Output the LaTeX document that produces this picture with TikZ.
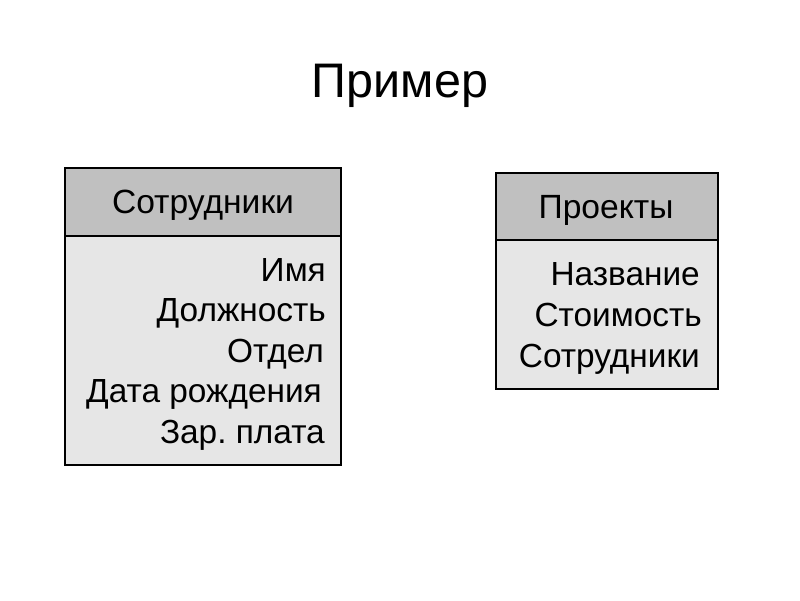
\documentclass[tikz,border=0pt]{standalone}
\usepackage{fontspec}
\setmainfont{Liberation Sans}
\definecolor{hdr}{HTML}{C0C0C0}
\definecolor{bdy}{HTML}{E6E6E6}
\begin{document}
\begin{tikzpicture}[x=1pt,y=-1pt,
  hdrbox/.style={draw=black,line width=2.4pt,fill=hdr},
  bdybox/.style={draw=black,line width=2.4pt,fill=bdy},
  field/.style={anchor=base east,font=\fontsize{33.4}{34}\selectfont,inner sep=0pt},
  htext/.style={anchor=base,font=\fontsize{33.6}{34}\selectfont,inner sep=0pt}]
\useasboundingbox (0,0) rectangle (800,600);
\node[anchor=base,font=\fontsize{48.5}{49}\selectfont,inner sep=0pt] (title) at (400,97) {Пример};
% Box 1
\filldraw[bdybox] (65,236) rectangle (341,465);
\filldraw[hdrbox] (65,168) rectangle (341,236);
\node[htext] (h1) at (203,213) {Сотрудники};
\node[field] (f1) at (326,281) {Имя};
\node[field] (f2) at (326,321) {Должность};
\node[field] (f3) at (324,362) {Отдел};
\node[field] (f4) at (322,402) {Дата рождения};
\node[field] (f5) at (325,443) {Зар.\ плата};
% Box 2
\filldraw[bdybox] (496,240) rectangle (718,389);
\filldraw[hdrbox] (496,173) rectangle (718,240);
\node[htext] (h2) at (606,218) {Проекты};
\node[field] (g1) at (700,285) {Название};
\node[field] (g2) at (702,326) {Стоимость};
\node[field] (g3) at (700,367) {Сотрудники};
\end{tikzpicture}
\end{document}
